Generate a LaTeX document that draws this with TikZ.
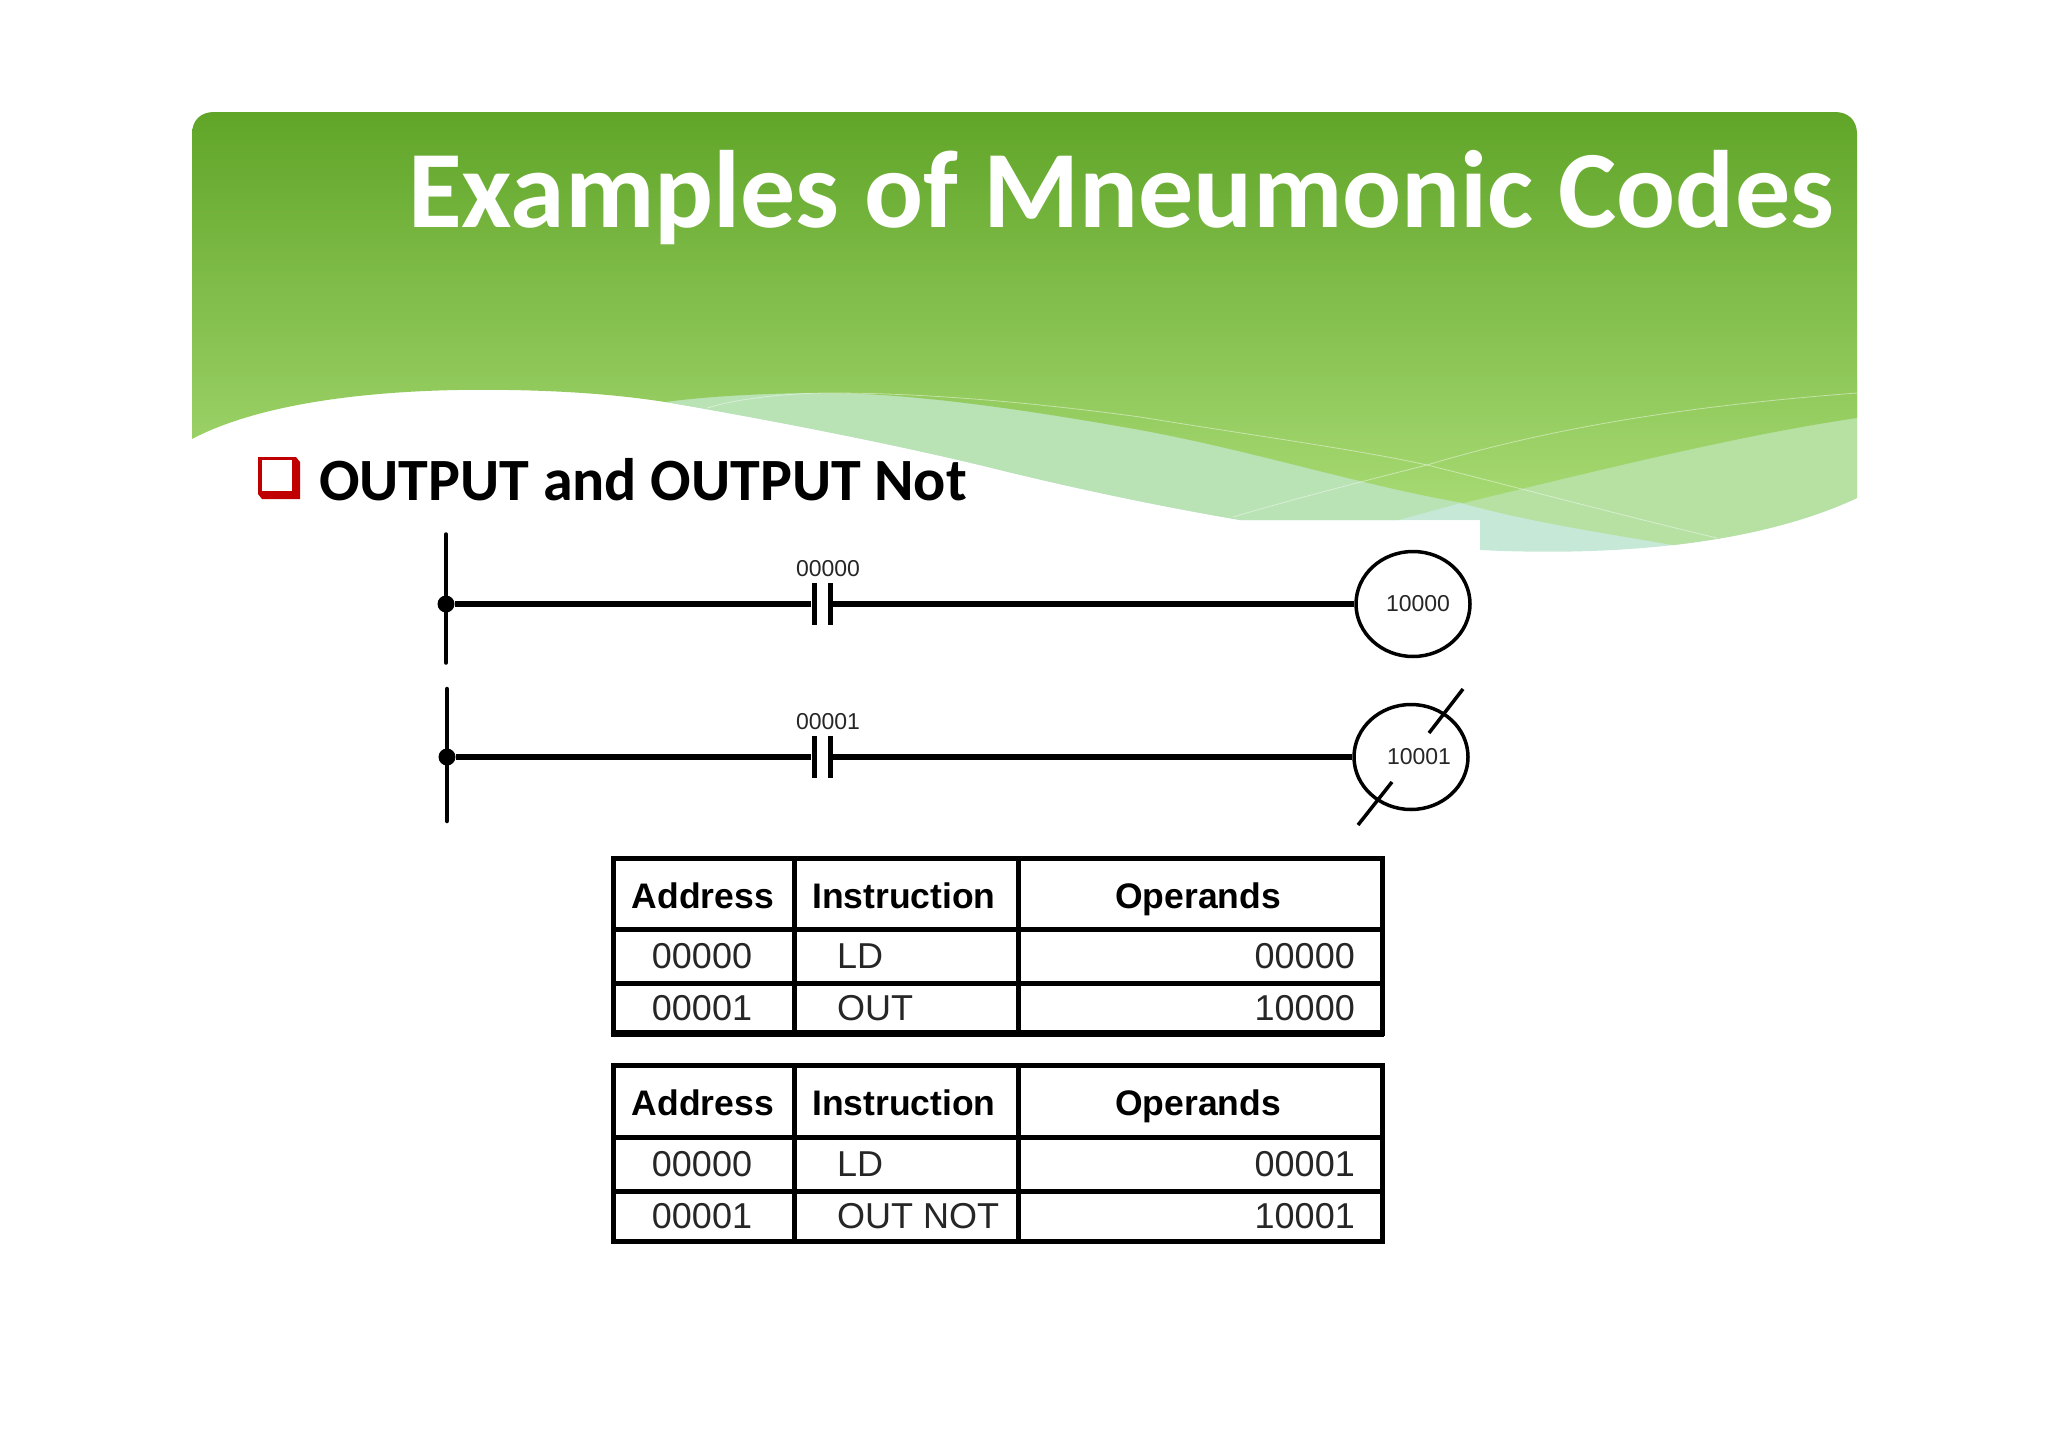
\documentclass[tikz,border=0pt]{standalone}
\usepackage{fontspec}
\usetikzlibrary{shapes.geometric}
\setmainfont{Carlito}
\newfontfamily\arialfont{Liberation Sans}
\definecolor{bandtop}{HTML}{60A528}
\definecolor{bandmid}{HTML}{8AC45E}
\definecolor{bandlow}{HTML}{A6D972}
\definecolor{mint}{HTML}{C6E8D6}
\definecolor{paleleft}{HTML}{B9E2B5}
\definecolor{paleright}{HTML}{B6E1A3}
\definecolor{boxred}{HTML}{C00000}

\begin{document}
\begin{tikzpicture}[x=1pt,y=-1pt,
  rail/.style={black,line width=3.5pt,line cap=round},
  rung/.style={black,line width=5.5pt},
  plate/.style={rectangle,fill=black,inner sep=0pt,minimum width=5pt,minimum height=42pt},
  coil/.style={ellipse,draw=black,line width=3.5pt,inner sep=0pt,minimum width=114pt,minimum height=105pt},
  junction/.style={circle,fill=black,inner sep=0pt,minimum size=17pt},
  ladderlabel/.style={font=\arialfont\fontsize{23}{23}\selectfont,inner sep=0pt,text=black!85},
  cell/.style={font=\arialfont\fontsize{36}{36}\selectfont,inner sep=0pt,text=black!85},
  headcell/.style={font=\arialfont\bfseries\fontsize{35.5}{36}\selectfont,inner sep=0pt},
  grid/.style={black,line width=5pt},
  thinline/.style={draw=white,draw opacity=.45,line width=.8pt}]
\useasboundingbox (0,0) rectangle (2048,1448);

% waves under the band
\begin{scope}
\clip (665,402) .. controls (760,418) and (900,445) .. (1000,470) .. controls (1090,492) and (1170,508) .. (1240,520)
  -- (1480,520) -- (1480,550) .. controls (1600,556) and (1750,548) .. (1857,498) -- (1857,380) -- (665,380) -- cycle;
\fill[mint] (600,370) rectangle (1900,570);
\fill[paleleft] (600,370) -- (1461,370) -- (1461,503) -- (1398,520) -- (600,530) -- cycle;
\fill[paleright] (1461,503) .. controls (1540,525) and (1620,535) .. (1700,550) -- (1900,560) -- (1900,370) -- (1461,370) -- cycle;
\end{scope}

% green band
\shade[top color=bandtop,middle color=bandmid,bottom color=bandlow]
  (1857,418) -- (1857,134) .. controls (1857,120) and (1848,112) .. (1835,112) -- (214,112)
  .. controls (201,112) and (192,120) .. (192,134) -- (192,439)
  .. controls (270,398) and (400,388) .. (509,390) .. controls (570,391) and (620,395) .. (665,402)
  .. controls (710,396) and (770,393) .. (823,393) .. controls (900,393) and (1000,405) .. (1140,430)
  .. controls (1250,450) and (1360,485) .. (1463,503)
  .. controls (1600,470) and (1740,435) .. (1857,418) -- cycle;
\draw[thinline] (707,408) .. controls (740,398) and (790,393) .. (830,393) .. controls (900,393) and (1000,398) .. (1140,417)
  .. controls (1250,435) and (1360,450) .. (1427,465) .. controls (1500,483) and (1620,515) .. (1717,538);
\draw[thinline] (1857,393) .. controls (1700,405) and (1560,425) .. (1427,465) .. controls (1360,482) and (1290,500) .. (1233,517);

\node[font=\bfseries\fontsize{110}{110}\selectfont,text=white,anchor=base west,inner sep=0pt] (title) at (408,227) {Examples of Mneumonic Codes};

% bullet and heading
\fill[boxred] (258,457) -- (296,457) -- (300,462) -- (300,499) -- (262,499) -- (258,494) -- cycle;
\fill[white] (262,460) rectangle (292,491);
\node[font=\bfseries\fontsize{60}{60}\selectfont,anchor=base west,inner sep=0pt] (heading) at (319,500) {OUTPUT and OUTPUT Not};

% ladder rungs
\foreach [count=\i] \y/\x/\w/\top/\bot/\a/\cx/\o/\ox in {604/446/3.5/534/663/00000/1413/10000/1418, 757/447/4.5/689/821/00001/1411/10001/1419}{
\coordinate (rt\i) at (\x,\top);
\coordinate (rb\i) at (\x,\bot);
\node[junction] (d\i) at (\x,\y) {};
\node[plate] (pa\i) at (814,\y) {};
\node[plate] (pb\i) at (830,\y) {};
\node[coil] (c\i) at (\cx,\y) {};
\node[ladderlabel] (a\i) at (828,\y-35) {\a};
\node[ladderlabel] (o\i) at (\ox,\y) {\o};
\draw[rail,line width=\w pt] (rt\i) -- (rb\i);
\draw[rung] (d\i) -- (pa\i);
\draw[rung] (pb\i) -- (c\i.west);
}

% slash through the second coil
\coordinate (su) at (1429,733);
\coordinate (sv) at (1463,689);
\coordinate (sw) at (1392,782);
\coordinate (sx) at (1358,825);
\draw[rail,line cap=butt] (su) -- (sv);
\draw[rail,line cap=butt] (sw) -- (sx);

% tables
\foreach \top/\ra/\rb/\bot/\w in {858/929/983/1033/7, 1065/1137/1191/1241/5}{
\draw[grid] (613,\top) rectangle (1382,\bot);
\draw[grid] (794,\top) -- (794,\bot);
\draw[grid] (1018,\top) -- (1018,\bot);
\draw[grid] (613,\ra) -- (1382,\ra);
\draw[grid] (613,\rb) -- (1382,\rb);
\draw[black,line width=\w pt] (611,\bot) -- (1384,\bot);
}

\foreach [count=\i] \h/\ya/\yb/\ins/\opa/\opb in {908/968/1020/OUT/00000/10000, 1115/1176/1228/OUT NOT/00001/10001}{
\node[headcell,anchor=base] (ha\i) at (703,\h) {Address};
\node[headcell,anchor=base west] (hb\i) at (812,\h) {Instruction};
\node[headcell,anchor=base] (hc\i) at (1198,\h) {Operands};
\node[cell,anchor=base] (aa\i) at (702,\ya) {00000};
\node[cell,anchor=base] (ab\i) at (702,\yb) {00001};
\node[cell,anchor=base west] (ia\i) at (837,\ya) {LD};
\node[cell,anchor=base west] (ib\i) at (837,\yb) {\ins};
\node[cell,anchor=base east] (oa\i) at (1355,\ya) {\opa};
\node[cell,anchor=base east] (ob\i) at (1355,\yb) {\opb};
}

\end{tikzpicture}
\end{document}
